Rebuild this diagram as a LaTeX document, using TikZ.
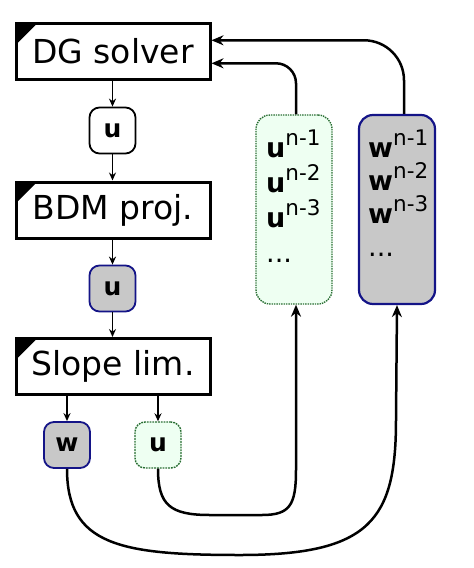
\documentclass[tikz,border=0pt]{standalone}
\usepackage{fontspec}
\setmainfont{DejaVu Sans}
\usetikzlibrary{arrows.meta,calc}
\definecolor{navy}{RGB}{20,20,135}
\definecolor{dkgreen}{RGB}{40,110,50}
\definecolor{mint}{RGB}{238,255,242}
\definecolor{stgray}{RGB}{200,200,200}
\newcommand\sps[1]{\raisebox{12pt}{\fontsize{21.5}{21.5}\selectfont\mdseries #1}}
\begin{document}
\begin{tikzpicture}[x=1pt,y=-1pt,
  mainbox/.style={draw, line width=3pt, minimum width=194pt, minimum height=56pt, inner sep=0pt,
    font=\fontsize{33}{38}\selectfont,
    path picture={\fill[black] (path picture bounding box.north west) -- ++(21pt,0pt) -- ++(-21pt,-21pt) -- cycle;}},
  smallnode/.style={rounded corners=10pt, minimum width=46pt, minimum height=46pt, inner sep=0pt,
    line width=1.8pt, font=\fontsize{25}{28}\selectfont\bfseries},
  plainnode/.style={smallnode, draw=black, fill=white},
  graynode/.style={smallnode, draw=navy, fill=stgray},
  greennode/.style={smallnode, draw=dkgreen, fill=mint, densely dotted, line width=1.4pt},
  store/.style={rounded corners=14pt, minimum width=76pt, minimum height=189pt, inner sep=0pt},
  storetext/.style={anchor=north west, inner sep=0pt, align=left},
  flow/.style={line width=1.8pt, -{Stealth[length=8pt,width=7pt]}},
  back/.style={line width=2.5pt, -{Stealth[length=12pt,width=10pt]}}
]
\useasboundingbox (0,0) rectangle (474,568);

\node[mainbox] (dg) at (113,51.5) {DG solver};
\node[mainbox] (bdm) at (113,210) {BDM proj.};
\node[mainbox] (sl) at (113,366.5) {Slope lim.};

\node[plainnode] (u1) at (112.5,130.5) {u};
\node[graynode] (u2) at (112.5,288.5) {u};
\node[graynode] (w) at (67,445) {w};
\node[greennode] (u3) at (158,445) {u};

\node[store, draw=dkgreen, fill=mint, densely dotted, line width=1.4pt] (ust) at (294,209.5) {};
\node[store, draw=navy, fill=stgray, line width=2.2pt] (wst) at (397,209.5) {};

\node[storetext, font=\fontsize{27}{35}\selectfont] (ut) at (266,130)
  {\textbf{u}\sps{n-1}\\\textbf{u}\sps{n-2}\\\textbf{u}\sps{n-3}\\...};
\node[storetext, font=\fontsize{27}{33}\selectfont] (wt) at (368,130)
  {\textbf{w}\sps{n-1}\\\textbf{w}\sps{n-2}\\\textbf{w}\sps{n-3}\\...};

\coordinate (dgw) at ($(dg.north east)!0.31!(dg.south east)$);
\coordinate (dgu) at ($(dg.north east)!0.70!(dg.south east)$);

\draw[flow] (dg.south -| u1.north) -- (u1.north);
\draw[flow] (u1.south) -- (u1.south |- bdm.north);
\draw[flow] (bdm.south -| u2.north) -- (u2.north);
\draw[flow] (u2.south) -- (u2.south |- sl.north);
\draw[flow] (sl.south -| w.north) -- (w.north);
\draw[flow] (sl.south -| u3.north) -- (u3.north);

\draw[back, rounded corners=20pt] ([xshift=2pt]ust.north) |- (dgu);
\draw[back, rounded corners=40pt] ([xshift=7pt]wst.north) |- (dgw);

\draw[back] (u3.south) .. controls (158,505) and (170,515) .. (210,515)
  -- (262,515) .. controls (290,515) and (296,505) .. (296,470) -- ([xshift=2pt]ust.south);
\coordinate (mid) at (240,555);
\draw[back] (w.south) .. controls (67,545) and (120,555) .. (mid)
  .. controls (370,555) and (396,520) .. (396,420) -- (wst.south);
\end{tikzpicture}
\end{document}
